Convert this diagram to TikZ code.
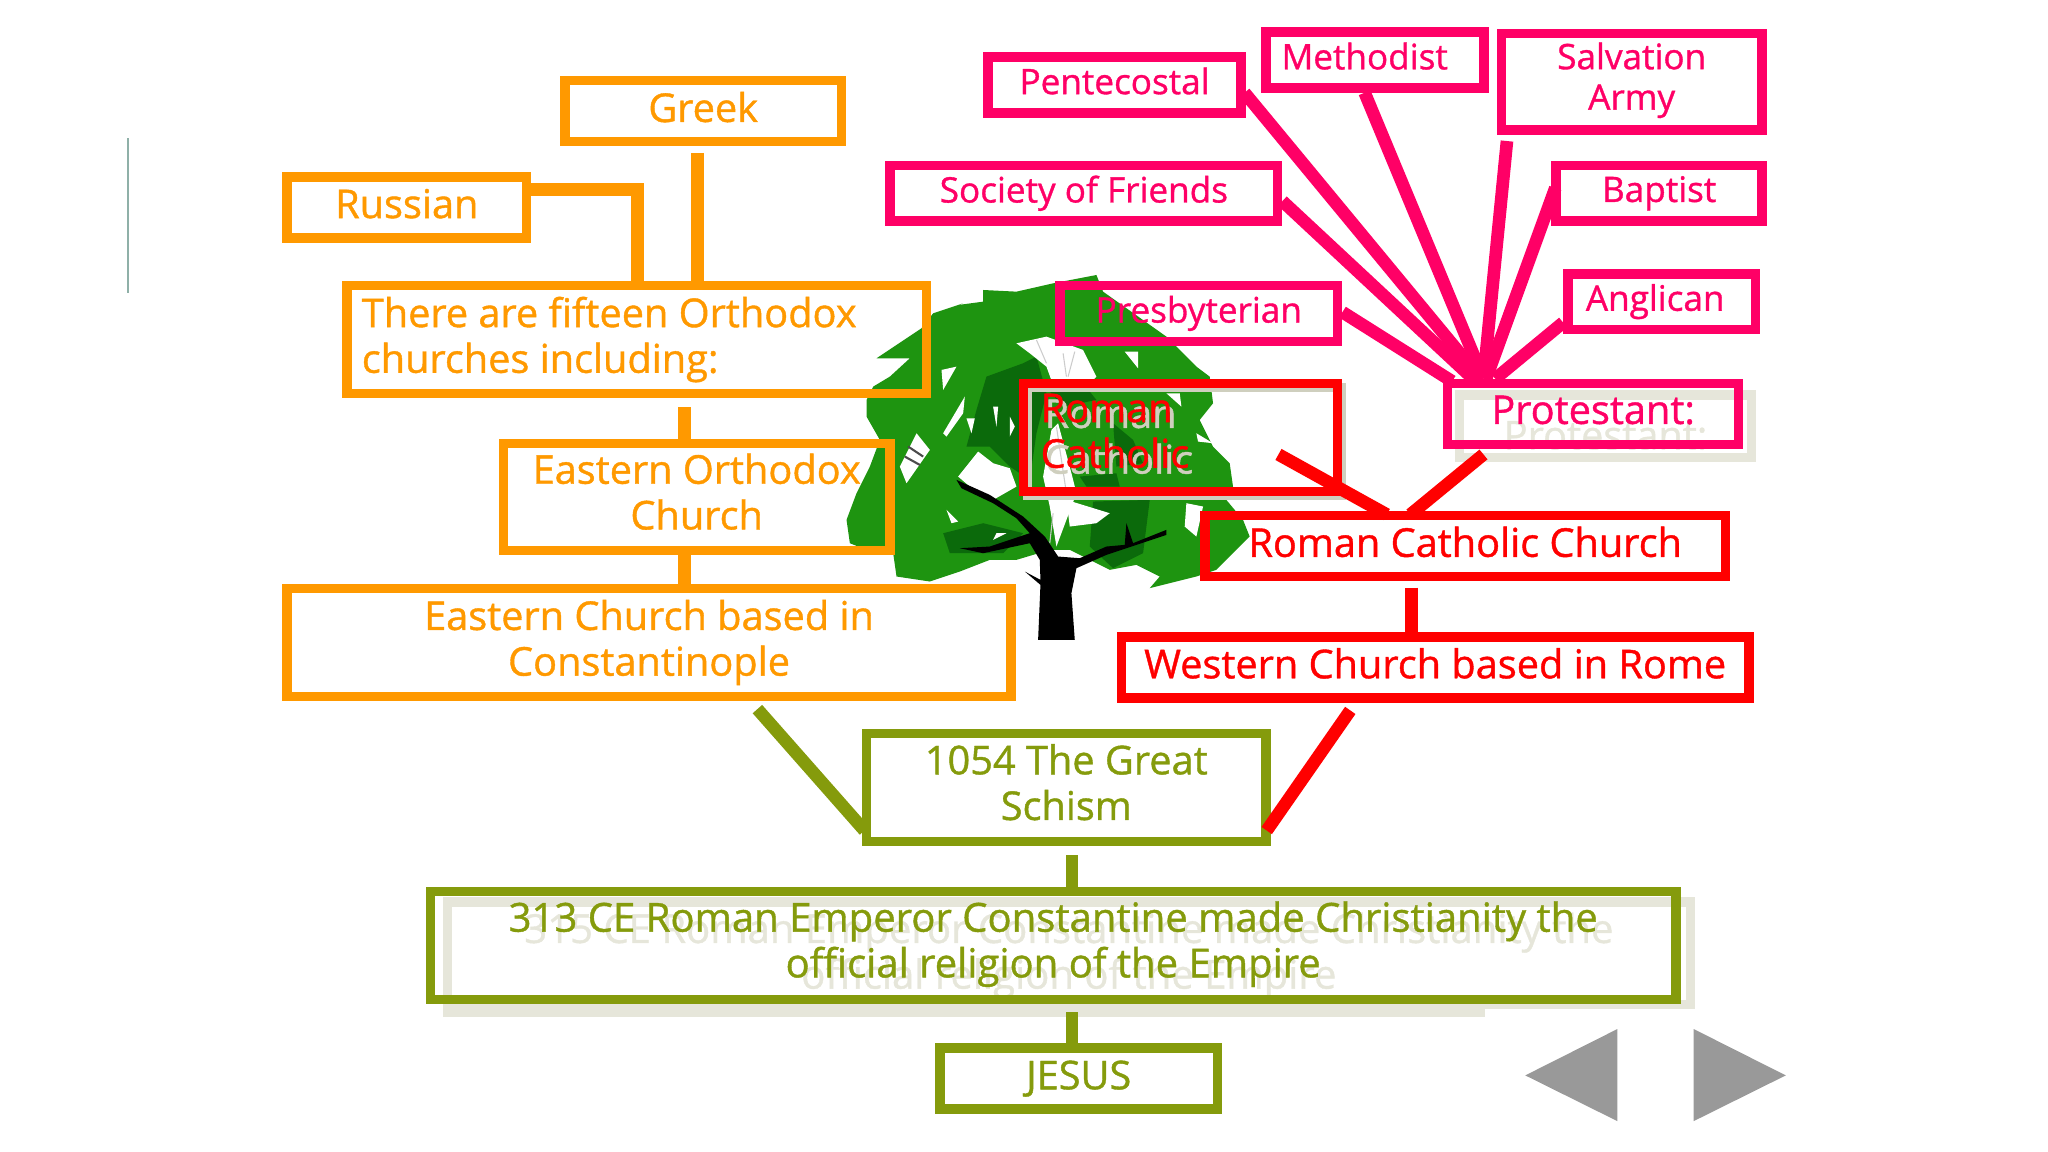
\documentclass[tikz,border=0pt]{standalone}
\usepackage{fontspec}
\setmainfont[FakeBold=1]{Open Sans}
\definecolor{ora}{HTML}{FF9900}
\definecolor{oli}{HTML}{859B0C}
\definecolor{pnk}{HTML}{FF0066}
\definecolor{rd}{HTML}{FF0000}
\definecolor{ghost}{HTML}{E6E6DA}
\definecolor{ghostdk}{HTML}{CFCFBE}
\definecolor{trg}{HTML}{1E9410}
\definecolor{trd}{HTML}{0B6A0B}
\newcommand\labelfont{\fontsize{56.5}{65}\selectfont}
\newcommand\pinkfont{\fontsize{50}{57.6}\selectfont}
\newcommand\constfont{\fontsize{57}{65}\selectfont}
\tikzset{
 bx/.style={draw=#1,line width=13.5pt,rectangle,outer sep=0pt,inner sep=0pt},
 lb/.style={text=#1,inner sep=0pt,outer sep=0pt,align=center,font=\labelfont},
 cn/.style={draw=#1,line width=18pt},
 navtri/.style={fill=black!40,draw=none}
}
\newcommand\mkbox[8]{% colour,name,x1,y1,x2,y2,label opts,text
 \pgfmathsetmacro\cx{(#3+#5)/2}\pgfmathsetmacro\cy{(#4+#6)/2}
 \pgfmathsetlengthmacro\mw{(#5-#3)*0.0653cm-13.5pt}
 \pgfmathsetlengthmacro\mh{(#6-#4)*0.0653cm-13.5pt}
 \node[bx=#1,minimum width=\mw,minimum height=\mh] (#2) at (\cx,\cy) {};
 \node[lb=#1,#7] (#2 text) at (#2.center) {#8};
}
\begin{document}
\begin{tikzpicture}[x=0.0653cm,y=-0.0653cm]
\useasboundingbox (0,0) rectangle (1568.3,882.1);
\draw[draw={rgb,255:red,143;green,176;blue,168},line width=3pt] (98,106) -- (98,224);
% tree
\begin{scope}[shift={(650.8,199.1)},x=0.016667cm,y=-0.016667cm]
\fill[trg] (80,295)--(215,205)--(250,160)--(340,130)--(325,135)--(400,125)--(400,90)--(500,95)--(610,70)--(740,45)--(760,95)--(950,230)--(1040,320)--(1080,350)--(1090,430)--(1050,480)--(1090,560)--(1140,610)--(1150,680)--(1130,720)--(1180,780)--(1200,830)--(1100,930)--(1040,950)--(900,985)--(930,950)--(860,915)--(780,930)--(660,870)--(600,870)--(500,900)--(420,900)--(330,935)--(240,965)--(140,950)--(130,880)--(50,870)--(0,850)--(-10,780)--(20,700)--(60,620)--(90,540)--(50,470)--(50,420)--(70,380)--(120,350)--(180,295)--cycle;
\fill[trd] (410,350)--(520,310)--(560,290)--(590,400)--(560,520)--(540,660)--(480,620)--(420,560)--(350,560)--(380,450)--cycle;
\fill[trd] (600,395)--(720,395)--(740,420)--(640,440)--cycle;
\fill[trd] (790,490)--(850,540)--(880,610)--(800,620)--cycle;
\fill[trd] (690,650)--(800,640)--(810,680)--(710,680)--cycle;
\fill[trd] (730,725)--(900,720)--(880,880)--(790,925)--(720,860)--cycle;
\fill[trd] (280,820)--(400,790)--(520,820)--(460,880)--(300,880)--cycle;
\fill[white] (500,250)--(590,230)--(700,270)--(740,350)--(700,390)--(610,375)--(590,320)--(540,280)--cycle;
\fill[white] (605,510)--(625,490)--(665,640)--(680,700)--(620,860)--(600,740)--(580,650)--cycle;
\fill[white] (325,650)--(385,575)--(430,610)--(480,625)--(500,680)--(430,720)--(360,680)--cycle;
\fill[white] (350,475)--(375,475)--(365,520)--cycle;
\fill[white] (430,440)--(445,440)--(440,500)--cycle;
\fill[white] (480,470)--(495,500)--(480,530)--cycle;
\fill[white] (280,520)--(345,410)--(340,460)--(290,530)--cycle;
\fill[white] (275,330)--(320,320)--(280,390)--cycle;
\fill[white] (150,620)--(200,520)--(240,570)--(170,670)--cycle;
\draw[black!70,line width=3pt] (175,560)--(220,590) (165,590)--(210,615);
\fill[white] (825,275)--(865,275)--(865,325)--cycle;
\fill[white] (950,400)--(990,400)--(995,440)--cycle;
\fill[white] (1040,520)--(1090,550)--(1045,545)--cycle;
\fill[white] (440,820)--(470,820)--(430,840)--cycle;
\fill[white] (650,720)--(780,760)--(740,790)--(660,800)--cycle;
\fill[white] (1010,730)--(1060,740)--(1040,830)--(1005,800)--cycle;
\fill[white] (290,750)--(325,785)--(305,790)--cycle;
\draw[black!20,line width=1.5pt] (560,240)--(590,310) (640,280)--(650,350) (675,275)--(655,350) (610,760)--(600,850) (620,500)--(650,700);
\fill[black] (565,1140)--(675,1140)--(665,1000)--(680,925)--(770,885)--(950,825)--(950,810)--(850,850)--(830,790)--(825,855)--(770,860)--(690,895)--(625,890)--(585,830)--(520,770)--(420,705)--(320,660)--(335,685)--(430,730)--(500,775)--(540,820)--(420,860)--(330,865)--(400,880)--(540,850)--(570,900)--(572,960)--(525,935)--(572,975)--cycle;
\end{scope}
% ghost shadows
\fill[ghost] (339,772) rectangle (1137,778.5);
\mkbox{ghost}{ghostprot}{1114}{299}{1345}{354}{yshift=-13pt}{Protestant:}
\mkbox{ghost}{ghostconst}{339}{687}{1298}{773}{font=\constfont,yshift=-3pt}{315 CE Roman Emperor Constantine made Christianity the\\official religion of the Empire}
\node[bx=ghostdk,minimum width=248*0.0653cm-13.5pt,minimum height=90*0.0653cm-13.5pt] (ghostrcbox) at (907,338) {};
\node[lb=ghostdk,align=left,anchor=north west] (ghostrc) at (800,306) {Roman\\Catholic};
% boxes
\mkbox{ora}{greek}{429}{58}{648}{112}{yshift=5.6pt}{Greek}
\mkbox{ora}{russian}{216}{132}{407}{186}{yshift=5.6pt}{Russian}
\mkbox{ora}{fifteen}{262}{215}{713}{305}{anchor=west,align=left,xshift=-391pt}{There are fifteen Orthodox\\churches including:}
\mkbox{ora}{eorth}{382}{336}{685}{425}{yshift=7.4pt}{Eastern Orthodox\\Church}
\mkbox{ora}{echurch}{216}{447}{778}{537}{}{Eastern Church based in\\Constantinople}
\mkbox{oli}{schism}{660}{558}{973}{648}{yshift=7.4pt}{1054 The Great\\Schism}
\mkbox{oli}{const}{326}{679}{1287}{769}{font=\constfont,yshift=1.9pt}{313 CE Roman Emperor Constantine made Christianity the\\official religion of the Empire}
\mkbox{oli}{jesus}{716}{799}{936}{853}{}{JESUS}
\mkbox{pnk}{pente}{753}{40}{954}{90}{font=\pinkfont,yshift=5.6pt}{Pentecostal}
\mkbox{pnk}{meth}{966}{21}{1140}{71}{font=\pinkfont,yshift=5.6pt,xshift=-14.8pt}{Methodist}
\mkbox{pnk}{salv}{1146}{22}{1353}{103}{font=\pinkfont,yshift=1.9pt}{Salvation\\Army}
\mkbox{pnk}{soc}{678}{123}{982}{173}{font=\pinkfont}{Society of Friends}
\mkbox{pnk}{bapt}{1188}{123}{1353}{173}{font=\pinkfont}{Baptist}
\mkbox{pnk}{angl}{1197}{206}{1348}{256}{font=\pinkfont,xshift=-9.3pt}{Anglican}
\mkbox{pnk}{pres}{808}{215}{1028}{265}{font=\pinkfont}{Presbyterian}
\mkbox{pnk}{prot}{1105}{290}{1335}{344}{yshift=5.6pt}{Protestant:}
\mkbox{rd}{rcat}{780}{290}{1028}{380}{anchor=west,align=left,xshift=-199pt,yshift=9.3pt}{Roman\\Catholic}
\mkbox{rd}{rcc}{919}{391}{1325}{445}{yshift=5.6pt}{Roman Catholic Church}
\mkbox{rd}{west}{855}{484}{1343}{538}{yshift=5.6pt}{Western Church based in Rome}
% connectors
\draw[cn=ora] (russian.east |- 0,145) -- (488,145) -- (488,215);
\draw[cn=ora] (534,117) -- (534,215);
\draw[cn=ora] (524,312) -- (524,336);
\draw[cn=ora] (524,425) -- (524,447);
\draw[cn=oli] (580,543) -- (662,636);
\draw[cn=rd] (1034,544) -- (970,636);
\draw[cn=oli] (821,655) -- (821,679);
\draw[cn=oli] (821,775) -- (821,799);
\draw[cn=rd] (1081,450) -- (1081,484);
\draw[cn=rd] (1136,348) -- (1080,394);
\draw[cn=rd] (979,348) -- (1062,394);
\draw[cn=pnk] (953,71) -- (1134,290);
\draw[cn=pnk] (1045,71) -- (1136,290);
\draw[cn=pnk] (1154,108) -- (1136,290);
\draw[cn=pnk] (982,154) -- (1128,290);
\draw[cn=pnk] (1191,144) -- (1138,290);
\draw[cn=pnk] (1197,247) -- (1145,290);
\draw[cn=pnk] (1028,239) -- (1112,292);
% nav arrows
\fill[navtri] (1168,823.5) -- (1238.5,788) -- (1238.5,858.5) -- cycle;
\fill[navtri] (1367.5,823.5) -- (1297,788) -- (1297,858.5) -- cycle;
\end{tikzpicture}
\end{document}
